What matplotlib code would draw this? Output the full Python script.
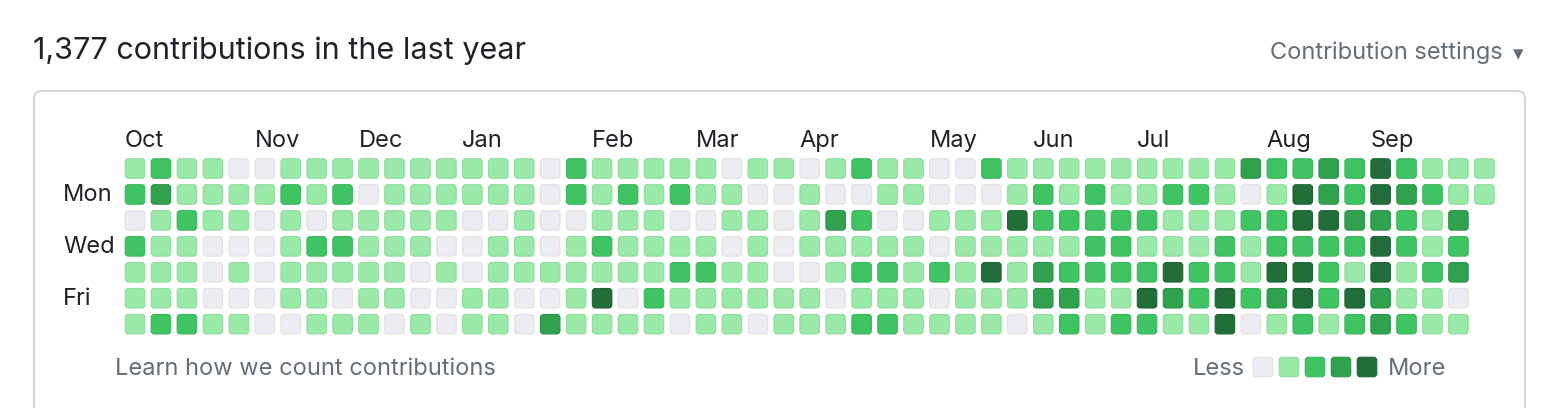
import matplotlib
matplotlib.use("Agg")
import matplotlib.pyplot as plt
from matplotlib.patches import FancyBboxPatch
import numpy as np

# contribution level per weekday row (Sun..Sat), one value per week (53 weeks)
row_sun = [1,2,1,1,0,0,1,1,1,1,1,1,1, 1,1,1,0,2,1,1,1,1,1,0,1,1,0, 1,2,1,1,0,0,2,1,1,1,1,1,1, 1,1,1,3,2,2,3,2,4,2,1,1,1]
row_mon = [2,3,1,1,1,1,2,1,2,0,1,1,1, 1,1,1,0,2,1,2,1,2,1,1,0,0,1, 0,0,1,1,0,0,0,1,2,1,2,1,1, 2,2,1,0,1,4,3,2,4,3,2,1,1]
row_tue = [0,1,2,1,1,0,1,0,1,1,1,1,1, 0,0,1,0,0,1,1,1,0,0,1,1,0,1, 3,2,0,0,1,1,1,4,2,2,2,2,2, 1,1,1,2,2,4,4,3,3,2,1,3]
row_wed = [2,1,1,0,0,0,1,2,2,1,1,1,0, 0,1,1,0,1,2,1,1,1,1,0,1,0,1, 1,1,1,1,0,1,1,1,1,1,2,2,1, 1,1,2,1,2,2,2,2,4,2,1,2]
row_thu = [1,1,1,0,1,0,1,1,1,1,1,0,1, 0,1,1,1,1,1,1,1,2,2,1,1,0,0, 1,2,2,1,2,1,4,1,3,2,2,2,2, 4,2,2,1,4,4,2,1,4,1,2,3]
row_fri = [1,1,1,0,0,0,1,1,0,1,1,0,0, 1,1,0,0,1,4,0,2,1,1,1,1,1,1, 0,1,1,1,0,1,1,1,3,3,1,1,4, 3,2,4,2,3,4,2,4,3,1,1,0]
row_sat = [1,2,2,1,1,0,0,1,1,1,0,1,0, 1,1,0,3,1,1,1,1,0,1,1,0,1,1, 1,2,2,1,1,1,1,0,1,2,1,2,2, 1,1,4,0,1,2,1,2,3,2,1,1]
rows = [row_sun, row_mon, row_tue, row_wed, row_thu, row_fri, row_sat]

months = ["Oct", "Nov", "Dec", "Jan", "Feb", "Mar", "Apr", "May", "Jun", "Jul", "Aug", "Sep"]
month_week = [0, 5, 9, 13, 18, 22, 26, 31, 35, 39, 44, 48]
day_labels = {1: "Mon", 3: "Wed", 5: "Fri"}

colors = ["#ebedf0", "#9be9a8", "#40c463", "#30a14e", "#216e39"]
edges = ["#dfe1e4", "#8fdc9c", "#3ab75b", "#2c9547", "#1f6535"]

W, H = 1546, 408
fig = plt.figure(figsize=(W / 100, H / 100), dpi=100)
ax = fig.add_axes([0, 0, 1, 1])
ax.set_xlim(0, W)
ax.set_ylim(H, 0)
ax.axis("off")

font = ["Inter", "DejaVu Sans"]
dark = "#1f2328"
grey = "#656d76"

ax.text(33, 51, "1,377 contributions in the last year", fontsize=22,
        color=dark, va="center", ha="left", family=font)
ax.text(1503, 53, "Contribution settings", fontsize=17, color=grey,
        va="center", ha="right", family=font)
ax.text(1518, 54, "▾", fontsize=15, color=grey, va="center", ha="center",
        family=["DejaVu Sans"])

box = FancyBboxPatch((34, 91), 1491, 400, boxstyle="round,pad=0,rounding_size=8",
                     fc="white", ec="#d0d7de", lw=1.4)
ax.add_patch(box)

x0, y0, step, size = 135, 168.5, 25.95, 19.5
for r, vals in enumerate(rows):
    for c, v in enumerate(vals):
        ax.add_patch(FancyBboxPatch((x0 + c * step - size / 2, y0 + r * step - size / 2),
                                    size, size, boxstyle="round,pad=0,rounding_size=3",
                                    fc=colors[v], ec=edges[v], lw=0.8))

for m, w in zip(months, month_week):
    ax.text(x0 + w * step - 10, 141, m, fontsize=17, color=dark,
            va="center", ha="left", family=font)
for r, lab in day_labels.items():
    ax.text(63, y0 + r * step + 1, lab, fontsize=17, color=dark,
            va="center", ha="left", family=font)

ax.text(115, 369, "Learn how we count contributions", fontsize=17, color=grey,
        va="center", ha="left", family=font)
ax.text(1245, 369, "Less", fontsize=17, color=grey, va="center", ha="right", family=font)
for i in range(5):
    ax.add_patch(FancyBboxPatch((1263 + i * 26 - size / 2, 367 - size / 2), size, size,
                                boxstyle="round,pad=0,rounding_size=3",
                                fc=colors[i], ec=edges[i], lw=0.8))
ax.text(1388, 369, "More", fontsize=17, color=grey, va="center", ha="left", family=font)

fig.savefig("out.png", dpi=100)
